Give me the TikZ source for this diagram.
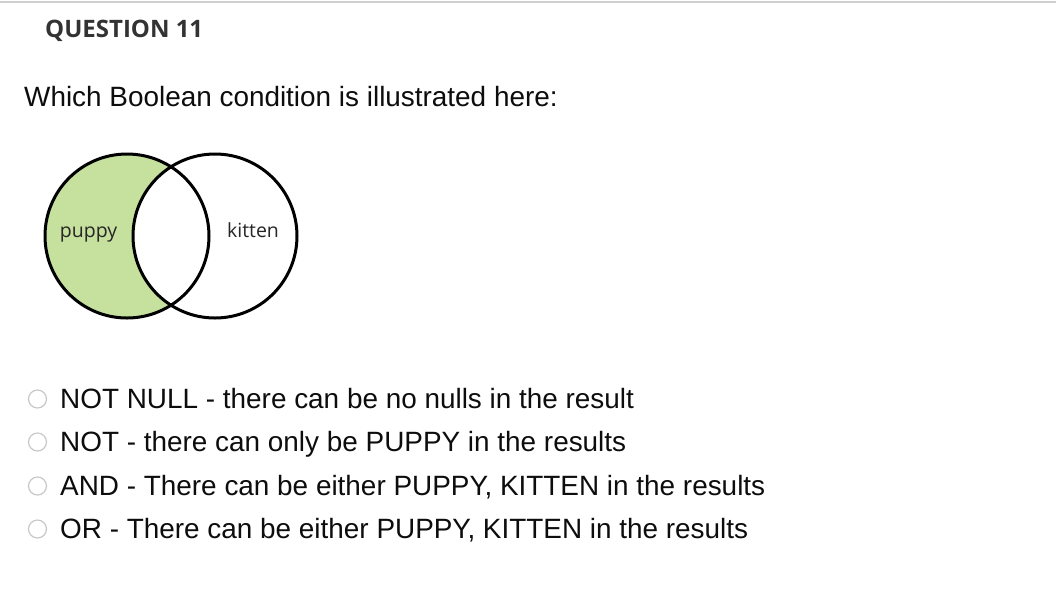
\documentclass[tikz,border=0pt]{standalone}
\usepackage{fontspec}
\setmainfont{Liberation Sans}
\newfontfamily\opensans{Open Sans}
\usepackage{xcolor}

\definecolor{puppygreen}{RGB}{198,224,158}
\definecolor{radiogray}{RGB}{200,200,200}
\definecolor{rulegray}{RGB}{208,208,208}
\definecolor{headgray}{RGB}{51,51,51}

\tikzset{
  answer/.style={anchor=base west, inner sep=0pt, text=black!95, font=\fontsize{27.9}{32}\selectfont},
  radio/.style={circle, draw=radiogray, line width=1.2pt, minimum size=18pt, inner sep=0pt},
  setlabel/.style={anchor=base, inner sep=0pt, text=black!85, font=\opensans\fontsize{19.5}{22}\selectfont},
}

\begin{document}
\begin{tikzpicture}[x=1pt,y=-1pt]
        \useasboundingbox (0,0) rectangle (1056,590);
        \fill [white] (0,0) rectangle (1056,590);
        \draw [rulegray, line width=2pt] (0,2) -- (1056,2);

        \node [anchor=base west, inner sep=0pt, text=headgray, font=\opensans\bfseries\fontsize{24}{28}\selectfont] (head) at (45,37) {QUESTION 11};
        \node [answer] (ask) at (24,106) {Which Boolean condition is illustrated here:};

        % venn diagram
        \coordinate (puppyc) at (127,236);
        \coordinate (kittenc) at (215,236);
        \fill [puppygreen] (puppyc) circle [radius=82pt];
        \begin{scope}
            \clip (kittenc) circle [radius=82pt];
            \fill [white] (puppyc) circle [radius=82pt];
        \end{scope}
        \draw [line width=3pt] (puppyc) circle [radius=82pt];
        \draw [line width=3pt] (kittenc) circle [radius=82pt];
        \node [setlabel] (puppy) at (88.5,237) {puppy};
        \node [setlabel] (kitten) at (253,237) {kitten};

        % answers
        \foreach \i/\y/\txt in {1/408/{NOT NULL - there can be no nulls in the result},
                                2/451/{NOT - there can only be PUPPY in the results},
                                3/495/{AND - There can be either PUPPY, KITTEN in the results},
                                4/538/{OR - There can be either PUPPY, KITTEN in the results}} {
            \node [radio] (radio\i) at (37.5,\y-9) {};
            \node [answer] (opt\i) at (60,\y) {\txt};
        }
    \end{tikzpicture}
\end{document}
